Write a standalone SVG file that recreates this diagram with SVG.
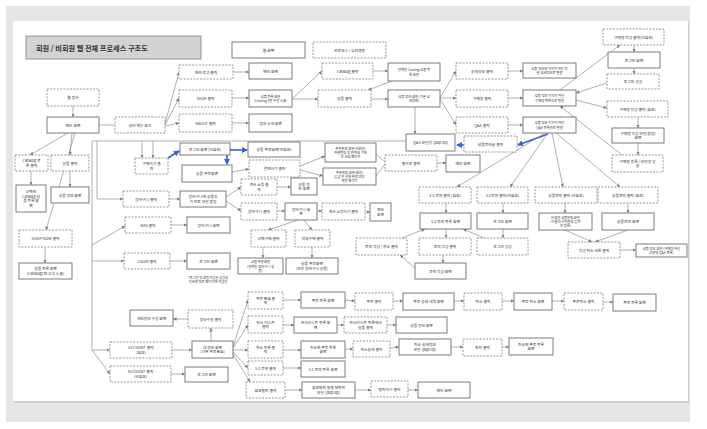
<svg xmlns="http://www.w3.org/2000/svg" width="707" height="429" viewBox="0 0 707 429">
<style>
.s{fill:#fff;stroke:#6e6e6e;stroke-width:0.9}
.d{fill:#fff;stroke:#8a8a8a;stroke-width:0.9;stroke-dasharray:2 1.3}
text{font-family:"Noto Sans CJK KR","Noto Sans",sans-serif;font-size:3.8px;fill:#333;text-anchor:middle;dominant-baseline:central}
.t{font-size:3.3px}
.c{stroke:#8c8c94;stroke-width:0.7;fill:none;marker-end:url(#a)}
.n{stroke:#8c8c94;stroke-width:0.7;fill:none}
.b{stroke:#3b5fd6;stroke-width:1.6;fill:none;marker-end:url(#ab)}
</style>
<defs>
<marker id="a" viewBox="0 0 6 6" refX="6" refY="3" markerWidth="3.5" markerHeight="3.5" markerUnits="userSpaceOnUse" orient="auto"><path d="M0,0L6,3L0,6z" fill="#7c7c84"/></marker>
<marker id="ab" viewBox="0 0 6 6" refX="5" refY="3" markerWidth="6" markerHeight="6" markerUnits="userSpaceOnUse" orient="auto"><path d="M0,0L6,3L0,6z" fill="#3b5fd6"/></marker>
</defs>
<rect x="0" y="0" width="707" height="429" fill="#fff"/>
<rect x="6" y="6" width="684" height="416" fill="#e6e4e7"/>
<rect x="14" y="22" width="675" height="381" fill="#cfcdd0"/>
<rect x="13" y="21" width="675" height="380" fill="#fff"/>
<g id="title"><rect x="26" y="36" width="175" height="23" fill="#d3d3d3" stroke="#8a8a8a" stroke-width="0.9"/><text x="36" y="48" style="font-size:7.2px;font-weight:bold;text-anchor:start">회원 / 비회원 웹 전체 프로세스 구조도</text></g>

<g id="connectors">
<path class="c" d="M73,106V117"/>
<path class="n" d="M99,125H115"/>
<path class="c" d="M165,124L179,72"/>
<path class="c" d="M165,125L179,98"/>
<path class="c" d="M165,126L179,123"/>
<path class="c" d="M233,72H249"/>
<path class="c" d="M232,98H249"/>
<path class="c" d="M232,123H249"/>
<path class="c" d="M292,99L322,71"/>
<path class="c" d="M292,99H318"/>
<path class="c" d="M373,71H388"/>
<path class="c" d="M392,81L368,90"/>
<path class="c" d="M371,99H388"/>
<path class="c" d="M440,98L456,71"/>
<path class="c" d="M440,98H456"/>
<path class="c" d="M440,99L456,125"/>
<path class="c" d="M508,71H523"/>
<path class="c" d="M508,98H523"/>
<path class="c" d="M508,125H523"/>
<path class="c" d="M560,90L620,45"/>
<path class="c" d="M634,45V52"/>
<path class="c" d="M634,68V74"/>
<path class="c" d="M607,83L576,93"/>
<path class="c" d="M576,100L607,108"/>
<path class="c" d="M638,117V128"/>
<path class="c" d="M638,143V155"/>
<path class="c" d="M622,155L560,106"/>
<path class="c" d="M415,107V134"/>
<path class="b" d="M548,134L518,145"/>
<path class="b" d="M464,145H457"/>
<path class="c" d="M545,133L457,187"/>
<path class="c" d="M548,133L510,187"/>
<path class="c" d="M552,133L563,187"/>
<path class="c" d="M556,133L620,187"/>
<path class="c" d="M446,203V213"/>
<path class="c" d="M503,203V213"/>
<path class="c" d="M503,229V238"/>
<path class="c" d="M484,238L463,229"/>
<path class="c" d="M446,229V238"/>
<path class="c" d="M443,255V263"/>
<path class="c" d="M415,268L400,255"/>
<path class="c" d="M402,238L425,229"/>
<path class="c" d="M565,203V213"/>
<path class="c" d="M628,203V213"/>
<path class="c" d="M565,230L592,242"/>
<path class="c" d="M628,230L595,242"/>
<path class="c" d="M620,250H636"/>
<path class="c" d="M68,133L30,155"/>
<path class="c" d="M72,133L70,155"/>
<path class="c" d="M75,133L46,230"/>
<path class="c" d="M31,171V185"/>
<path class="c" d="M70,171V187"/>
<path class="c" d="M45,247V263"/>
<path class="c" d="M406,141H92V350H110"/>
<path class="c" d="M97,141V199H123"/>
<path class="c" d="M142,141V158"/>
<path class="c" d="M153,141V158"/>
<path class="c" d="M92,245L125,226"/>
<path class="c" d="M92,261H124"/>
<path class="c" d="M92,350L110,374"/>
<path class="b" d="M168,158L179,151"/>
<path class="b" d="M228,150H247"/>
<path class="b" d="M227,150V164"/>
<path class="c" d="M232,172L249,169"/>
<path class="c" d="M300,166L325,156"/>
<path class="c" d="M300,170L323,176"/>
<path class="n" d="M376,154L385,162"/>
<path class="n" d="M376,176L385,164"/>
<path class="c" d="M437,163H446"/>
<path class="c" d="M169,199H180"/>
<path class="c" d="M226,197L241,187"/>
<path class="c" d="M226,201L241,211"/>
<path class="c" d="M277,187H291"/>
<path class="c" d="M277,211H285"/>
<path class="c" d="M317,211H322"/>
<path class="c" d="M365,212H370"/>
<path class="c" d="M298,220L268,230"/>
<path class="c" d="M304,220L312,230"/>
<path class="c" d="M263,247V258"/>
<path class="c" d="M312,247V258"/>
<path class="c" d="M171,225H187"/>
<path class="c" d="M170,261H187"/>
<path class="c" d="M172,350H192"/>
<path class="c" d="M171,374H185"/>
<path class="c" d="M211,341V328"/>
<path class="c" d="M188,319H173"/>
<path class="c" d="M233,347L248,300"/>
<path class="c" d="M233,348L248,325"/>
<path class="c" d="M233,350H248"/>
<path class="c" d="M233,352L248,368"/>
<path class="c" d="M233,354L250,382"/>
<path class="c" d="M283,300H301"/>
<path class="c" d="M283,325H294"/>
<path class="c" d="M283,350H301"/>
<path class="c" d="M283,368H301"/>
<path class="c" d="M285,390H302"/>
<path class="c" d="M345,300L355,301"/>
<path class="c" d="M393,301H403"/>
<path class="c" d="M454,301H464"/>
<path class="c" d="M502,301H514"/>
<path class="c" d="M552,301H564"/>
<path class="c" d="M603,302H613"/>
<path class="c" d="M337,325H344"/>
<path class="c" d="M387,325H396"/>
<path class="c" d="M345,349H353"/>
<path class="c" d="M390,348L399,347"/>
<path class="c" d="M451,347H463"/>
<path class="c" d="M502,347H509"/>
<path class="c" d="M355,390H371"/>
<path class="c" d="M408,390H418"/>
</g>

<g id="legend-screen"><rect class="s" x="232" y="42" width="73" height="16"/><text x="268.5" y="50">웹 화면</text></g>
<g id="legend-process"><rect class="d" x="313" y="42" width="73" height="16"/><text x="349.5" y="50">프로세스 / 유저행동</text></g>
<g id="n1"><rect class="d" x="47" y="89" width="52" height="17"/><text x="73" y="97.5">웹 접속</text></g>
<g id="n2"><rect class="s" x="47" y="117" width="52" height="16"/><text x="73" y="125">메인 화면</text></g>
<g id="n3"><rect class="d" x="115" y="117" width="50" height="16"/><text x="140" y="125">상단 메뉴 표시</text></g>
<g id="n4"><rect class="d" x="179" y="65" width="54" height="14"/><text x="206" y="72">메인 로고 클릭</text></g>
<g id="n5"><rect class="d" x="179" y="90" width="53" height="17"/><text x="205.5" y="98.5">SHOP 클릭</text></g>
<g id="n6"><rect class="d" x="179" y="114" width="53" height="18"/><text x="205.5" y="123">ABOUT 클릭</text></g>
<g id="n7"><rect class="s" x="249" y="63" width="43" height="16"/><text x="270.5" y="71">메인 화면</text></g>
<g id="n8"><rect class="s" x="249" y="90" width="43" height="17"/><text class="t" x="270.5" y="96.3">상품 목록 화면</text><text class="t" x="270.5" y="100.8">(Catalog 1번 우선 노출)</text></g>
<g id="n9"><rect class="s" x="249" y="114" width="43" height="18"/><text x="270.5" y="123">업체 소개 화면</text></g>
<g id="n10"><rect class="d" x="322" y="63" width="51" height="16"/><text x="347.5" y="71">Catalog 클릭</text></g>
<g id="n11"><rect class="d" x="318" y="90" width="53" height="17"/><text x="344.5" y="98.5">상품 클릭</text></g>
<g id="n12"><rect class="s" x="388" y="63" width="52" height="18"/><text class="t" x="414" y="69.8">선택한 Catalog 상품 목</text><text class="t" x="414" y="74.3">록 화면</text></g>
<g id="n13"><rect class="s" x="388" y="90" width="52" height="17"/><text class="t" x="414" y="96.3">상품 정보 화면 (기본 상</text><text class="t" x="414" y="100.8">세정보)</text></g>
<g id="n14"><rect class="d" x="456" y="63" width="52" height="16"/><text x="482" y="71">상세정보 클릭</text></g>
<g id="n15"><rect class="d" x="456" y="90" width="52" height="17"/><text x="482" y="98.5">구매평 클릭</text></g>
<g id="n16"><rect class="d" x="456" y="117" width="52" height="16"/><text x="482" y="125">Q&amp;A 클릭</text></g>
<g id="n17"><rect class="s" x="523" y="63" width="53" height="15"/><text class="t" x="549.5" y="68.3">상품 정보의 이미지 하단 부</text><text class="t" x="549.5" y="72.8">분 상세정보로 변경</text></g>
<g id="n18"><rect class="s" x="523" y="90" width="53" height="16"/><text class="t" x="549.5" y="95.8">상품 정보 이미지 하단</text><text class="t" x="549.5" y="100.3">구매평 목록으로 변경</text></g>
<g id="n19"><rect class="s" x="523" y="117" width="53" height="16"/><text class="t" x="549.5" y="122.8">상품 정보 이미지 하단</text><text class="t" x="549.5" y="127.3">Q&amp;A 목록으로 변경</text></g>
<g id="n20"><rect class="d" x="603" y="29" width="61" height="16"/><text x="633.5" y="37">구매평 작성 클릭(비회원)</text></g>
<g id="n21"><rect class="s" x="608" y="52" width="52" height="16"/><text x="634" y="60">로그인 화면</text></g>
<g id="n22"><rect class="d" x="607" y="74" width="52" height="15"/><text x="633" y="81.5">로그인 성공</text></g>
<g id="n23"><rect class="d" x="607" y="101" width="61" height="16"/><text x="637.5" y="109">구매평 작성 클릭 (회원)</text></g>
<g id="n24"><rect class="s" x="612" y="128" width="52" height="15"/><text x="638" y="133.3">구매평 작성 모달(팝업)</text><text x="638" y="137.8">화면</text></g>
<g id="n25"><rect class="d" x="612" y="155" width="51" height="17"/><text x="637.5" y="161.3">구매평 등록 / 모달창 닫</text><text x="637.5" y="165.8">힘</text></g>
<g id="n26"><rect class="s" x="406" y="134" width="49" height="17"/><text x="430.5" y="142.5">Q&amp;A 모달창 (pop up)</text></g>
<g id="n27"><rect class="d" x="464" y="136" width="53" height="16"/><text x="490.5" y="144">상품문의글 클릭</text></g>
<g id="n28"><rect class="d" x="15" y="155" width="33" height="16"/><text x="31.5" y="160.8">Catalog 목</text><text x="31.5" y="165.3">록 클릭</text></g>
<g id="n29"><rect class="d" x="51" y="155" width="38" height="16"/><text x="70" y="163">상품 클릭</text></g>
<g id="n30"><rect class="s" x="16" y="185" width="30" height="27"/><text x="31" y="191.75">선택한</text><text x="31" y="196.25">Catalog 상</text><text x="31" y="200.75">품 목록 화</text><text x="31" y="205.25">면</text></g>
<g id="n31"><rect class="s" x="51" y="187" width="38" height="16"/><text x="70" y="195">상품 정보 화면</text></g>
<g id="n32"><rect class="d" x="19" y="230" width="53" height="17"/><text x="45.5" y="238.5">SHOP NOW 클릭</text></g>
<g id="n33"><rect class="s" x="19" y="263" width="53" height="16"/><text x="45.5" y="268.8">상품 목록 화면</text><text x="45.5" y="273.3">(Catalog1번 우선 노출)</text></g>
<g id="n34"><rect class="d" x="135" y="158" width="33" height="16"/><text x="151.5" y="163.8">구매하기 클</text><text x="151.5" y="168.3">릭</text></g>
<g id="n35"><rect class="s" x="180" y="143" width="50" height="12"/><text x="205" y="149">로그인 화면 (비회원)</text></g>
<g id="n36"><rect class="s" x="248" y="142" width="52" height="15"/><text x="274" y="149.5">상품 주문화면(비회원)</text></g>
<g id="n37"><rect class="s" x="182" y="165" width="50" height="17"/><text x="207" y="173.5">상품 주문화면</text></g>
<g id="n38"><rect class="d" x="249" y="160" width="51" height="17"/><text x="274.5" y="168.5">결제하기 클릭</text></g>
<g id="n39"><rect class="s" x="325" y="143" width="51" height="19"/><text class="t" x="350.5" y="148.3">주문완료 화면(비회원)</text><text class="t" x="350.5" y="152.5">주문번호 및 연락처 기재</text><text class="t" x="350.5" y="156.7">후 조회 페이지</text></g>
<g id="n40"><rect class="s" x="323" y="168" width="53" height="17"/><text class="t" x="349.5" y="172.3">주문완료 화면(회원)</text><text class="t" x="349.5" y="176.5">입금 후 결제 완료 여부</text><text class="t" x="349.5" y="180.7">확인 페이지</text></g>
<g id="n41"><rect class="d" x="385" y="155" width="52" height="16"/><text x="411" y="163">홈으로 클릭</text></g>
<g id="n42"><rect class="s" x="446" y="155" width="34" height="17"/><text x="463" y="163.5">메인 화면</text></g>
<g id="n43"><rect class="d" x="123" y="191" width="46" height="16"/><text x="146" y="199">장바구니 클릭</text></g>
<g id="n44"><rect class="s" x="180" y="191" width="46" height="16"/><text x="203" y="196.8">장바구니에 상품추</text><text x="203" y="201.3">가 완료 모달 팝업</text></g>
<g id="n45"><rect class="d" x="241" y="179" width="36" height="16"/><text x="259" y="184.8">계속 쇼핑 클</text><text x="259" y="189.3">릭</text></g>
<g id="n46"><rect class="s" x="291" y="178" width="26" height="17"/><text x="304" y="184.3">상품 정</text><text x="304" y="188.8">보 화면</text></g>
<g id="n47"><rect class="d" x="241" y="203" width="36" height="17"/><text x="259" y="211.5">장바구니 클릭</text></g>
<g id="n48"><rect class="s" x="285" y="203" width="32" height="17"/><text x="301" y="209.3">장바구니 화</text><text x="301" y="213.8">면</text></g>
<g id="n49"><rect class="d" x="322" y="203" width="43" height="17"/><text x="343.5" y="211.5">계속 쇼핑하기 클릭</text></g>
<g id="n50"><rect class="s" x="370" y="203" width="21" height="18"/><text x="380.5" y="209.8">메인</text><text x="380.5" y="214.3">화면</text></g>
<g id="n51"><rect class="d" x="251" y="230" width="35" height="17"/><text x="268.5" y="238.5">선택구매 클릭</text></g>
<g id="n52"><rect class="d" x="295" y="230" width="35" height="17"/><text x="312.5" y="238.5">전체구매 클릭</text></g>
<g id="n53"><rect class="s" x="238" y="258" width="45" height="16"/><text class="t" x="260.5" y="261.8">상품 주문화면</text><text class="t" x="260.5" y="266">(선택한 장바구니 상</text><text class="t" x="260.5" y="270.2">품)</text></g>
<g id="n54"><rect class="s" x="286" y="258" width="52" height="16"/><text x="312" y="263.8">상품 주문화면</text><text x="312" y="268.3">(모든 장바구니 상품)</text></g>
<g id="n55"><rect class="d" x="125" y="217" width="46" height="16"/><text x="148" y="225">BAG 클릭</text></g>
<g id="n56"><rect class="s" x="187" y="217" width="43" height="16"/><text x="208.5" y="225">장바구니 화면</text></g>
<g id="n57"><rect class="d" x="124" y="253" width="46" height="16"/><text x="147" y="261">LOGIN 클릭</text></g>
<g id="n58"><rect class="s" x="187" y="253" width="43" height="16"/><text x="208.5" y="261">로그인 화면</text></g>
<g id="note"><text class="t" x="208" y="277">*로그인 및 회원가입은 공간상</text><text class="t" x="208" y="281.5">이유로 따로 페이지에 작성함</text></g>
<g id="n59"><rect class="d" x="419" y="187" width="52" height="16"/><text x="445" y="195">1:1 문의 클릭 (회원)</text></g>
<g id="n60"><rect class="d" x="477" y="187" width="51" height="16"/><text x="502.5" y="195">1:1문의 클릭(비회원)</text></g>
<g id="n61"><rect class="d" x="535" y="187" width="62" height="16"/><text x="566" y="195">상품문의 클릭 (비회원)</text></g>
<g id="n62"><rect class="d" x="598" y="187" width="60" height="16"/><text x="628" y="195">상품문의 클릭 (회원)</text></g>
<g id="n63"><rect class="s" x="420" y="213" width="51" height="16"/><text x="445.5" y="221">1:1 문의 목록 화면</text></g>
<g id="n64"><rect class="s" x="477" y="213" width="51" height="16"/><text x="502.5" y="221">로그인 화면</text></g>
<g id="n65"><rect class="s" x="539" y="213" width="53" height="17"/><text class="t" x="565.5" y="217.3">비회원 상품문의 화면</text><text class="t" x="565.5" y="221.5">(이름과 비밀번호 입력</text><text class="t" x="565.5" y="225.7">후 등록)</text></g>
<g id="n66"><rect class="s" x="602" y="213" width="52" height="17"/><text x="628" y="221.5">상품문의 화면</text></g>
<g id="n67"><rect class="d" x="356" y="238" width="51" height="17"/><text x="381.5" y="246.5">문의 작성 / 취소 클릭</text></g>
<g id="n68"><rect class="d" x="419" y="238" width="52" height="17"/><text x="445" y="246.5">문의 작성 클릭</text></g>
<g id="n69"><rect class="d" x="477" y="238" width="51" height="17"/><text x="502.5" y="246.5">로그인 성공</text></g>
<g id="n70"><rect class="s" x="415" y="263" width="51" height="16"/><text x="440.5" y="271">문의 작성 화면</text></g>
<g id="n71"><rect class="d" x="568" y="242" width="52" height="16"/><text x="594" y="250">작성 취소 버튼 클릭</text></g>
<g id="n72"><rect class="s" x="636" y="244" width="51" height="13"/><text class="t" x="661.5" y="248.5">상품 정보 화면 (구매평 하단</text><text class="t" x="661.5" y="252.7">부분의 Q&amp;A 목록)</text></g>
<g id="n73"><rect class="s" x="130" y="310" width="43" height="16"/><text x="151.5" y="318">개인정보 수정 화면</text></g>
<g id="n74"><rect class="d" x="188" y="310" width="45" height="18"/><text x="210.5" y="319">정보수정 클릭</text></g>
<g id="n75"><rect class="d" x="110" y="342" width="62" height="16"/><text x="141" y="347.8">ACCOUNT 클릭</text><text x="141" y="352.3">(회원)</text></g>
<g id="n76"><rect class="s" x="192" y="341" width="41" height="17"/><text x="212.5" y="347.3">내 정보 화면</text><text x="212.5" y="351.8">(기본 주문조회)</text></g>
<g id="n77"><rect class="d" x="110" y="366" width="61" height="16"/><text x="140.5" y="371.8">ACCOUNT 클릭</text><text x="140.5" y="376.3">(비회원)</text></g>
<g id="n78"><rect class="s" x="185" y="367" width="43" height="15"/><text x="206.5" y="374.5">로그인 화면</text></g>
<g id="n79"><rect class="d" x="248" y="292" width="35" height="17"/><text x="265.5" y="298.3">주문 조회 클</text><text x="265.5" y="302.8">릭</text></g>
<g id="n80"><rect class="d" x="248" y="316" width="35" height="17"/><text x="265.5" y="322.3">위시 리스트</text><text x="265.5" y="326.8">클릭</text></g>
<g id="n81"><rect class="d" x="248" y="341" width="35" height="17"/><text x="265.5" y="347.3">취소 목록 클</text><text x="265.5" y="351.8">릭</text></g>
<g id="n82"><rect class="d" x="248" y="361" width="35" height="14"/><text x="265.5" y="368">1:1 문의 클릭</text></g>
<g id="n83"><rect class="d" x="246" y="382" width="39" height="16"/><text x="265.5" y="390">회원탈퇴 클릭</text></g>
<g id="n84"><rect class="s" x="301" y="292" width="44" height="16"/><text x="323" y="300">주문 목록 화면</text></g>
<g id="n85"><rect class="s" x="294" y="317" width="43" height="16"/><text x="315.5" y="322.8">위시리스트 목록 화</text><text x="315.5" y="327.3">면</text></g>
<g id="n86"><rect class="s" x="301" y="341" width="44" height="17"/><text x="323" y="347.3">취소된 주문 목록</text><text x="323" y="351.8">화면</text></g>
<g id="n87"><rect class="s" x="301" y="361" width="44" height="16"/><text x="323" y="369">1:1 문의 목록 화면</text></g>
<g id="n88"><rect class="s" x="302" y="382" width="53" height="16"/><text x="328.5" y="387.8">회원탈퇴 실행 재확인</text><text x="328.5" y="392.3">모달 (pop up)</text></g>
<g id="n89"><rect class="d" x="355" y="293" width="38" height="17"/><text x="374" y="301.5">주문 클릭</text></g>
<g id="n90"><rect class="s" x="403" y="293" width="51" height="17"/><text x="428.5" y="301.5">주문 상세 내역 화면</text></g>
<g id="n91"><rect class="d" x="464" y="293" width="38" height="17"/><text x="483" y="301.5">취소 클릭</text></g>
<g id="n92"><rect class="s" x="514" y="293" width="38" height="17"/><text x="533" y="301.5">주문 취소 화면</text></g>
<g id="n93"><rect class="d" x="564" y="293" width="39" height="17"/><text x="583.5" y="301.5">주문취소 클릭</text></g>
<g id="n94"><rect class="s" x="613" y="294" width="43" height="17"/><text x="634.5" y="302.5">주문 목록 화면</text></g>
<g id="n95"><rect class="d" x="344" y="317" width="43" height="16"/><text x="365.5" y="322.8">위시리스트 목록에서</text><text x="365.5" y="327.3">상품 클릭</text></g>
<g id="n96"><rect class="s" x="396" y="317" width="51" height="16"/><text x="421.5" y="325">상품 정보 화면</text></g>
<g id="n97"><rect class="d" x="353" y="341" width="37" height="16"/><text x="371.5" y="349">취소상세 클릭</text></g>
<g id="n98"><rect class="s" x="399" y="339" width="52" height="16"/><text x="425" y="344.8">취소 상세정보</text><text x="425" y="349.3">모달 (pop up)</text></g>
<g id="n99"><rect class="d" x="463" y="339" width="39" height="17"/><text x="482.5" y="347.5">확인 클릭</text></g>
<g id="n100"><rect class="s" x="509" y="338" width="44" height="17"/><text x="531" y="344.3">취소된 주문 목록</text><text x="531" y="348.8">화면</text></g>
<g id="n101"><rect class="d" x="371" y="381" width="37" height="16"/><text x="389.5" y="389">탈퇴하기 클릭</text></g>
<g id="n102"><rect class="s" x="418" y="382" width="52" height="16"/><text x="444" y="390">메인 화면</text></g>
</svg>
